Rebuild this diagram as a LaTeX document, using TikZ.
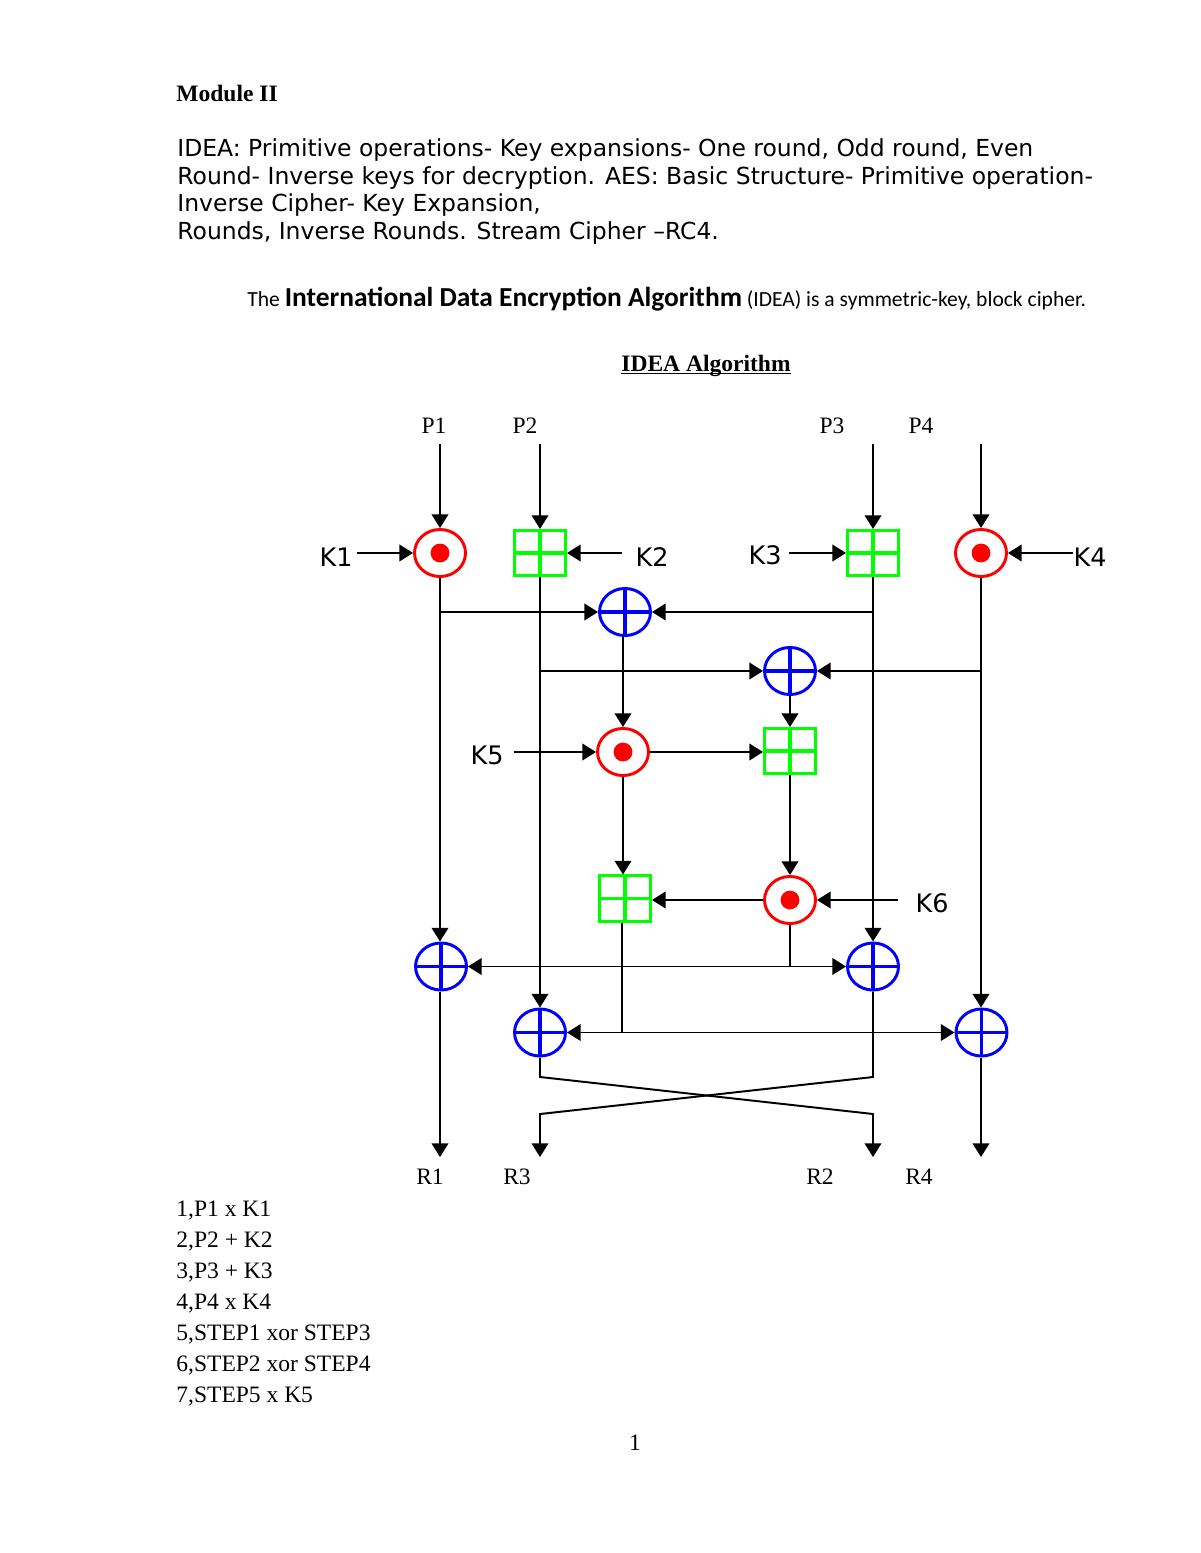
\documentclass[tikz,border=0pt]{standalone}
\usepackage{fontspec}
\setmainfont{Liberation Serif}
\newfontfamily\headfont{DejaVu Sans}
\newfontfamily\introfont{Carlito}
\usetikzlibrary{arrows.meta}
\usetikzlibrary{shapes.geometric}
\tikzset{
    flow/.style={line width=1pt, -{Triangle[length=7pt,width=8.5pt]}},
    wire/.style={line width=1pt},
    both/.style={line width=0.85pt, {Triangle[length=7pt,width=8.5pt]}-{Triangle[length=7pt,width=8.5pt]}},
    mulop/.style={ellipse, draw=red, line width=1.5pt, minimum width=26pt, minimum height=24pt, inner sep=0pt,
        path picture={\fill[red] (path picture bounding box.center) circle (4.8pt);}},
    xorop/.style={ellipse, draw=blue, line width=1.5pt, minimum width=26pt, minimum height=24pt, inner sep=0pt,
        path picture={\draw[blue, line width=1.7pt]
            (path picture bounding box.north) -- (path picture bounding box.south)
            (path picture bounding box.west) -- (path picture bounding box.east);}},
    addop/.style={rectangle, draw=green, line width=1.5pt, minimum width=26pt, minimum height=23pt, inner sep=0pt,
        path picture={\draw[green, line width=1.7pt]
            (path picture bounding box.north) -- (path picture bounding box.south)
            (path picture bounding box.west) -- (path picture bounding box.east);}},
    keylabel/.style={font=\headfont\fontsize{13}{14}\selectfont, inner ysep=0pt},
    portlabel/.style={font=\fontsize{12}{14}\selectfont, inner sep=0pt},
    line/.style={anchor=base west, inner sep=0pt, font=\fontsize{12}{14}\selectfont},
    headline/.style={anchor=base west, inner sep=0pt, font=\headfont\fontsize{11.97}{14}\selectfont}
}

\begin{document}
\begin{tikzpicture}[x=0.51pt, y=-0.51pt]
    \path[use as bounding box, fill=white] (0,0) rectangle (1200,1553);

    \node[line, font=\bfseries\fontsize{12}{14}\selectfont] (MODULE) at (176,102) {Module II};
    \node[headline] (HEADA) at (177,157) {IDEA: Primitive operations- Key expansions- One round, Odd round, Even};
    \node[headline] (HEADB) at (177,185) {Round- Inverse keys for decryption. AES: Basic Structure- Primitive operation-};
    \node[headline] (HEADC) at (177,212) {Inverse Cipher- Key Expansion,};
    \node[headline] (HEADD) at (177,240) {Rounds, Inverse Rounds. Stream Cipher –RC4.};
    \node[line, font=\introfont\fontsize{11}{14}\selectfont] (INTRO) at (247,306)
        {The {\bfseries\fontsize{14}{14}\selectfont International Data Encryption Algorithm} (IDEA) is a symmetric-key, block cipher.};
    \node[line, anchor=base, font=\bfseries\fontsize{12}{14}\selectfont] (TITLE) at (706,371) {\underline{\smash{IDEA Algorithm}}};

    \node[portlabel] (P1) at (434,426) {P1};
    \node[portlabel] (P2) at (525,426) {P2};
    \node[portlabel] (P3) at (832,426) {P3};
    \node[portlabel] (P4) at (921,426) {P4};
    \coordinate (P1IN) at (440,444);
    \coordinate (P2IN) at (540,444);
    \coordinate (P3IN) at (873,444);
    \coordinate (P4IN) at (981,444);

    % first row
    \node[mulop] (MULA) at (440,553) {};
    \node[addop] (ADDA) at (540,553) {};
    \node[addop] (ADDB) at (873,553) {};
    \node[mulop] (MULB) at (981,553) {};
    \node[keylabel, inner xsep=2pt] (K1) at (336,557) {K1};
    \node[keylabel, inner xsep=6.5pt] (K2) at (652,557) {K2};
    \node[keylabel, inner xsep=3.5pt] (K3) at (765,555) {K3};
    \node[keylabel, inner xsep=0pt] (K4) at (1090,557) {K4};
    \draw[flow] (P1IN) -- (MULA);
    \draw[flow] (P2IN) -- (ADDA);
    \draw[flow] (P3IN) -- (ADDB);
    \draw[flow] (P4IN) -- (MULB);
    \draw[flow] (K1.east |- MULA) -- (MULA);
    \draw[flow] (K2.west |- ADDA) -- (ADDA);
    \draw[flow] (K3.east |- ADDB) -- (ADDB);
    \draw[flow] (K4.west |- MULB) -- (MULB);

    % middle
    \node[xorop] (XORA) at (625,612) {};
    \node[xorop] (XORB) at (790,671) {};
    \node[mulop] (MULC) at (623,752) {};
    \node[addop] (ADDC) at (790,751) {};
    \node[addop] (ADDD) at (625,898.5) {};
    \node[mulop] (MULD) at (790,900) {};
    \node[keylabel, inner xsep=5pt] (K5) at (487,755) {K5};
    \node[keylabel, inner xsep=9pt] (K6) at (932,903) {K6};
    \coordinate (JA) at (MULA |- XORA);
    \coordinate (JB) at (ADDB |- XORA);
    \coordinate (JC) at (ADDA |- XORB);
    \coordinate (JD) at (MULB |- XORB);
    \draw[flow] (JA) -- (XORA);
    \draw[flow] (JB) -- (XORA);
    \draw[flow] (JC) -- (XORB);
    \draw[flow] (JD) -- (XORB);
    \draw[flow] (XORA.south -| MULC) -- (MULC);
    \draw[flow] (XORB) -- (ADDC);
    \draw[flow] (K5.east |- MULC) -- (MULC);
    \draw[flow] (MULC) -- (ADDC.west |- MULC);
    \draw[flow] (MULC) -- (MULC |- ADDD.north);
    \draw[flow] (ADDC) -- (MULD);
    \draw[flow] (MULD) -- (ADDD.east |- MULD);
    \draw[flow] (K6.west |- MULD) -- (MULD);

    % output row
    \node[xorop] (XORC) at (441,966.5) {};
    \node[xorop] (XORD) at (873,966.5) {};
    \node[xorop] (XORE) at (540,1032.5) {};
    \node[xorop] (XORF) at (981.5,1032.5) {};
    \coordinate (JE) at (MULD |- XORC);
    \coordinate (JF) at (622,1032.5);
    \draw[flow] (MULA) -- (MULA |- XORC.north);
    \draw[flow] (ADDB) -- (ADDB |- XORD.north);
    \draw[flow] (ADDA) -- (ADDA |- XORE.north);
    \draw[flow] (MULB) -- (MULB |- XORF.north);
    \draw[wire] (MULD) -- (JE);
    \draw[both] (XORC) -- (XORD);
    \draw[wire] (ADDD.south -| JF) -- (JF);
    \draw[both] (XORE) -- (XORF);

    % swap
    \coordinate (SWA) at (540,1077);
    \coordinate (SWB) at (873,1077);
    \coordinate (SWC) at (540,1114);
    \coordinate (SWD) at (873,1114);
    \coordinate (R1OUT) at (440,1157);
    \coordinate (R3OUT) at (540,1157);
    \coordinate (R2OUT) at (873,1157);
    \coordinate (R4OUT) at (981,1157);
    \draw[flow] (XORC.south -| R1OUT) -- (R1OUT);
    \draw[flow] (XORE) -- (SWA) -- (SWD) -- (R2OUT);
    \draw[flow] (XORD) -- (SWB) -- (SWC) -- (R3OUT);
    \draw[flow] (XORF.south -| R4OUT) -- (R4OUT);
    \node[portlabel] (R1) at (430,1177) {R1};
    \node[portlabel] (R3) at (517,1177) {R3};
    \node[portlabel] (R2) at (820,1177) {R2};
    \node[portlabel] (R4) at (919,1177) {R4};

    \node[line] (STEPA) at (176,1216) {1,P1 x K1};
    \node[line] (STEPB) at (176,1247) {2,P2 + K2};
    \node[line] (STEPC) at (176,1278) {3,P3 + K3};
    \node[line] (STEPD) at (176,1309) {4,P4 x K4};
    \node[line] (STEPE) at (176,1340) {5,STEP1 xor STEP3};
    \node[line] (STEPF) at (176,1371) {6,STEP2 xor STEP4};
    \node[line] (STEPG) at (176,1402) {7,STEP5 x K5};
    \node[line, anchor=base] (PAGENO) at (635,1450) {1};
\end{tikzpicture}
\end{document}
